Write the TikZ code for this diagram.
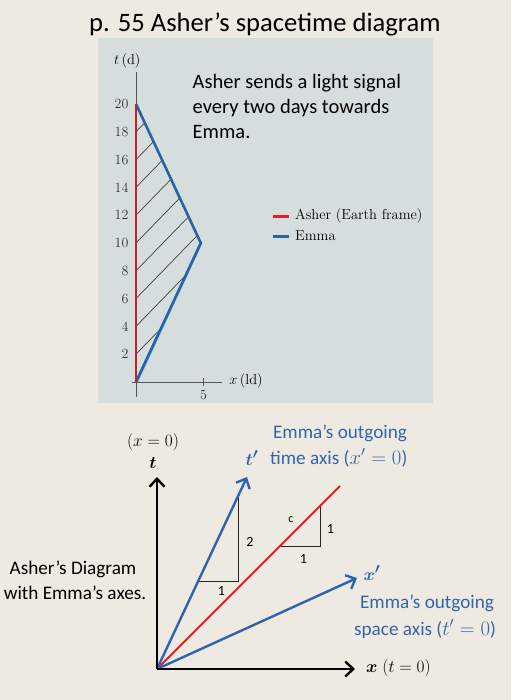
\documentclass[tikz,border=0pt]{standalone}
\usepackage{amsmath,bm}
\usepackage[no-math]{fontspec}
\usetikzlibrary{arrows.meta}
\newfontfamily\calib{Carlito}
\definecolor{bgcream}{RGB}{238,234,226}
\definecolor{panelc}{RGB}{214,222,221}
\definecolor{ashred}{RGB}{196,32,44}
\definecolor{emmablue}{RGB}{38,98,168}
\definecolor{lightblue}{RGB}{120,180,228}
\definecolor{brightred}{RGB}{226,30,34}
\definecolor{axblue}{RGB}{44,100,176}
\definecolor{txtblue}{RGB}{52,100,170}
\definecolor{axgray}{RGB}{85,85,85}
\tikzset{
  sansbig/.style={font=\calib\fontsize{20.5}{24}\selectfont, inner sep=0pt},
  sansmid/.style={font=\calib\fontsize{19.2}{22}\selectfont, inner sep=0pt},
  sanssmall/.style={font=\calib\fontsize{14}{16}\selectfont, inner sep=0pt},
  serifl/.style={font=\fontsize{14.5}{16}\selectfont, inner sep=0pt},
  ticklab/.style={font=\fontsize{14}{15}\selectfont, inner sep=0pt, text=black!80},
  axisln/.style={draw=axgray, line width=0.9pt},
  hatchln/.style={draw=black!75, line width=0.7pt},
  tip/.style={-{Straight Barb[length=8pt,width=15pt]}},
  blackax/.style={draw=black, line width=2.4pt, tip},
  blueax/.style={draw=axblue, line width=2.4pt, tip},
  triln/.style={draw=black!85, line width=0.8pt},
  mathlab/.style={font=\fontsize{19}{21}\selectfont, inner sep=0pt},
}
\begin{document}
\begin{tikzpicture}[x=1pt,y=-1pt]
\useasboundingbox (0,0) rectangle (511,700);
\fill[bgcream] (0,0) rectangle (511,700);
% title
\node[font=\calib\fontsize{26.6}{30}\selectfont, inner sep=0pt, anchor=base west] (title) at (89,31.7) {p. 55 Asher’s spacetime diagram};
% panel
\fill[panelc] (98,38) rectangle (433,403);
% top chart
\begin{scope}[shift={(136,382)}, x=13.5pt, y=13.9pt]
  \draw[axisln] (0,-1.1) -- (0,22.3);
  \draw[axisln] (-0.3,0) -- (6.4,0);
  \draw[axisln] (5,-0.3) -- (5,0.3);
  \node[serifl] (tlab) at (-0.65,23.1) {$t$\,(d)};
  \node[serifl, anchor=west] (xlab) at (6.9,0.05) {$x$\,(ld)};
  \node[ticklab] (five) at (5,-0.95) {5};
  \foreach \k in {2,4,...,20} {
    \node[ticklab, anchor=east] (tk\k) at (-0.55,\k) {\k};
  }
  \foreach \k in {2,4,...,18} {
    \pgfmathsetmacro\tm{(\k/0.52 <= 10) ? \k/0.52 : (\k+9.6)/1.48}
    \pgfmathsetmacro\xm{\tm-\k}
    \draw[hatchln] (0,\k) -- (\xm,\tm);
  }
  \coordinate (O) at (0,0);
  \coordinate (P) at (4.8,10);
  \coordinate (R) at (0,20);
  \draw[lightblue, line width=1.3pt] ([xshift=1.5pt]O) -- ([xshift=1pt]P);
  \draw[emmablue, line width=2.6pt, line join=round] (O) -- (P) -- (R);
  \draw[ashred, line width=2.3pt] (O) -- (R);
\end{scope}
\node[sansbig, anchor=base west] (s1) at (192.5,88.3) {Asher sends a light signal};
\node[sansbig, anchor=base west] (s2) at (192.5,113.3) {every two days towards};
\node[sansbig, anchor=base west] (s3) at (192.5,138.3) {Emma.};
% legend
\draw[brightred, line width=3pt] (273,216.5) -- (289,216.5);
\draw[emmablue, line width=3pt] (273,236.5) -- (289,236.5);
\node[serifl, anchor=west] (lg1) at (295,215.5) {Asher (Earth frame)};
\node[serifl, anchor=west] (lg2) at (295,235.5) {Emma};
% bottom diagram
\coordinate (B) at (157,669);
\coordinate (tt) at (157,477);
\coordinate (xt) at (355,669);
\coordinate (rt) at (340,486);
\coordinate (tpt) at (247,477);
\coordinate (xpt) at (357,578);
\draw[triln] (198.2,581) -- (238,581) -- (238,496);
\draw[triln] (280,546) -- (320,546) -- (320,506);
\draw[brightred, line width=2pt] (B) -- (rt);
\draw[blueax] (B) -- (tpt);
\draw[blueax] (B) -- (xpt);
\draw[blackax] (B) -- (tt);
\draw[blackax] (B) -- (xt);
% triangle labels
\node[sanssmall] (l2) at (250,541.7) {2};
\node[sanssmall] (l1a) at (221.5,591) {1};
\node[sanssmall] (l1b) at (330.5,529) {1};
\node[sanssmall] (l1c) at (303.5,558.5) {1};
\node[font=\calib\fontsize{12}{14}\selectfont, inner sep=0pt] (lc) at (291,519.5) {c};
% axis labels
\node[mathlab] (xeq) at (153,442) {$(x=0)$};
\node[mathlab] (tb) at (153,463) {$\boldsymbol{t}$};
\node[mathlab, text=axblue] (tpb) at (252,458) {$\boldsymbol{t'}$};
\node[mathlab, text=axblue] (xpb) at (372,573) {$\boldsymbol{x'}$};
\node[mathlab, anchor=west] (xb) at (366,668) {$\boldsymbol{x}\;(t=0)$};
\node[sansmid, text=txtblue] (e1) at (340,433.5) {Emma’s outgoing};
\node[sansmid, text=txtblue, anchor=west] (e2) at (270,458) {time axis ($x'=0$)};
\node[sansmid, text=txtblue] (e3) at (427,603) {Emma’s outgoing};
\node[sansmid, text=txtblue] (e4) at (425,629) {space axis ($t'=0$)};
\node[sansmid] (a1) at (73,569.5) {Asher’s Diagram};
\node[sansmid] (a2) at (75,592.5) {with Emma’s axes.};
\end{tikzpicture}
\end{document}
